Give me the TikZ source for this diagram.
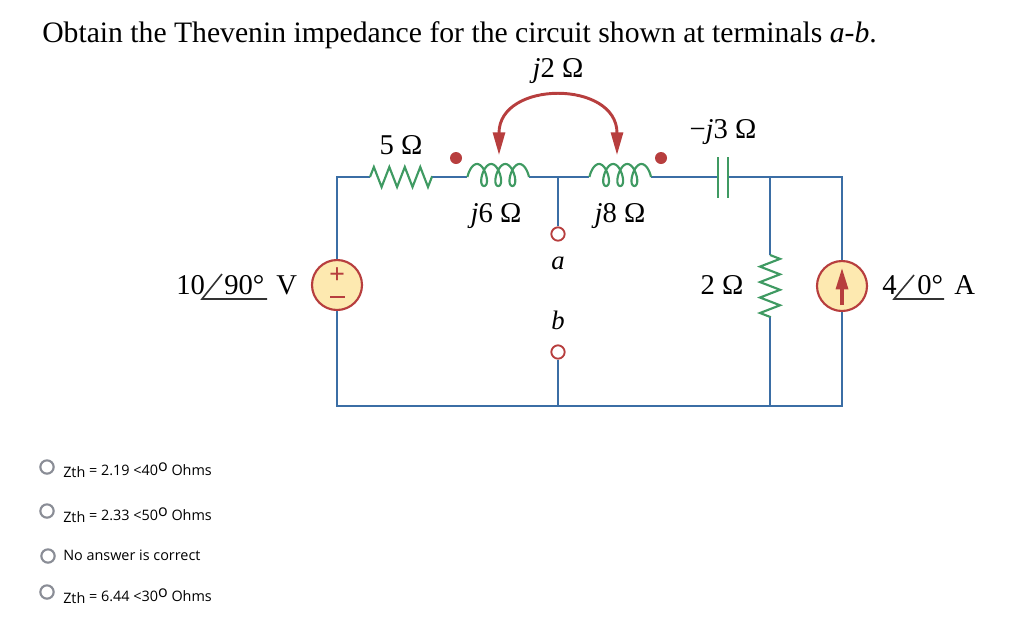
\documentclass[tikz,border=0pt]{standalone}
\usepackage{fontspec}
\setmainfont{Liberation Serif}
\newfontfamily\optfont{Open Sans}
\usetikzlibrary{arrows.meta,decorations.pathmorphing}
\definecolor{wireblue}{HTML}{3B6EA5}
\definecolor{partgreen}{HTML}{3F9A62}
\definecolor{dotred}{HTML}{B73E3E}
\definecolor{srcyellow}{HTML}{FDE9B0}
\definecolor{radiogray}{HTML}{8A8D96}
\tikzset{
	wire/.style={draw=wireblue, line width=2.1pt},
	thinwire/.style={draw=wireblue, line width=1.7pt},
	part/.style={draw=partgreen, line width=1.6pt},
	res/.style={part, decorate, decoration={zigzag, segment length=11.6pt, amplitude=7.5pt}},
	src/.style={circle, draw=dotred, fill=srcyellow, line width=1.6pt, minimum size=37.5pt, inner sep=0pt},
	term/.style={circle, draw=dotred, fill=white, line width=1.4pt, minimum size=10pt, inner sep=0pt},
	dotmark/.style={circle, fill=dotred, minimum size=9pt, inner sep=0pt},
	lab/.style={anchor=base, inner sep=0pt, font=\fontsize{21.5}{25}\selectfont},
	termlab/.style={anchor=base, inner sep=0pt, font=\fontsize{20}{24}\selectfont},
	optlab/.style={anchor=base west, inner sep=0pt, font=\optfont\fontsize{10.8}{13}\selectfont},
	radio/.style={circle, draw=radiogray, fill=white, line width=1.6pt, minimum size=10pt, inner sep=0pt}
}
\newcommand{\zth}{\raisebox{-1.5pt}{Zth}}
\newcommand{\supo}{\raisebox{3pt}{\fontsize{12}{12}\selectfont o}}
\def\coilpart(#1){\draw[part, shift={(#1)}] plot[domain=-90:1170, samples=160] ({10+0.0393*\x+6*sin(\x)}, {-11*cos(\x)-2*cos(\x)*cos(\x)});}
\begin{document}
\begin{tikzpicture}[x=0.75pt, y=-0.75pt]
	\useasboundingbox (0,0) rectangle (1024,629);
	
	%%%%% TITLE %%%%%
	\node[anchor=base west, inner sep=0pt, font=\fontsize{22.25}{26}\selectfont] (title) at (42,42) {Obtain the Thevenin impedance for the circuit shown at terminals \textit{a-b}.};
	
	%%%%% CORNERS AND JUNCTIONS %%%%%
	\coordinate (tl) at (337,177);
	\coordinate (tr) at (842,177);
	\coordinate (bl) at (337,406);
	\coordinate (br) at (842,406);
	\coordinate (tm) at (558,177);
	\coordinate (bm) at (558,406);
	\coordinate (tn) at (770,177);
	\coordinate (bn) at (770,406);
	
	\coordinate (r1a) at (370,177);
	\coordinate (r1b) at (432,177);
	\coordinate (l1a) at (467,177);
	\coordinate (l1b) at (529,177);
	\coordinate (l2a) at (589,177);
	\coordinate (l2b) at (651,177);
	\coordinate (c1a) at (718,177);
	\coordinate (c1b) at (728,177);
	\coordinate (r2a) at (770,255);
	\coordinate (r2b) at (770,317);
	
	\node[src] (vs) at (337,285) {};
	\node[src] (is) at (842,286) {};
	\node[term] (ta) at (558,234) {};
	\node[term] (tb) at (558,352) {};
	
	%%%%% WIRES %%%%%
	\draw[wire] (vs) -- (tl) -- (r1a);
	\draw[wire] (r1b) -- (l1a);
	\draw[wire] (l1b) -- (l2a);
	\draw[wire] (l2b) -- (c1a);
	\draw[wire] (c1b) -- (tr) -- (is);
	\draw[wire] (vs) -- (bl) -- (br) -- (is);
	\draw[thinwire] (tm) -- (ta);
	\draw[thinwire] (tb) -- (bm);
	\draw[thinwire] (tn) -- (r2a);
	\draw[thinwire] (r2b) -- (bn);
	
	%%%%% PARTS %%%%%
	\draw[res] (r1a) -- (r1b);
	\coilpart(l1a)
	\coilpart(l2a)
	\draw[res] (r2a) -- (r2b);
	\draw[part] (718,157) -- (c1a) -- (718,198);
	\draw[part] (728,157) -- (c1b) -- (728,198);
	
	%%%%% COUPLING %%%%%
	\node[dotmark] (d1) at (456,158) {};
	\node[dotmark] (d2) at (661,158) {};
	\coordinate (m1) at (499,155);
	\coordinate (m2) at (617,155);
	\draw[dotred, line width=2.2pt, {Triangle[length=17pt, width=9pt]}-{Triangle[length=17pt, width=9pt]}] (m1) .. controls +(0,-75) and +(0,-75) .. (m2);
	
	%%%%% SOURCE MARKS %%%%%
	\node[inner sep=0pt, text=dotred, font=\bfseries\fontsize{21}{21}\selectfont] (vplus) at (337,276) {+};
	\draw[dotred, line width=2pt] (330,297) -- (345,297);
	\coordinate (ia) at (842,305);
	\coordinate (ib) at (842,268);
	\draw[dotred, line width=2.4pt, -{Triangle[length=16pt, width=9pt]}] (ia) -- (ib);
	
	%%%%% LABELS %%%%%
	\node[lab] (lbm) at (558,77) {\textit{j}2 Ω};
	\node[lab] (lbr1) at (401,154) {5 Ω};
	\node[lab] (lbl1) at (496,222) {\textit{j}6 Ω};
	\node[lab] (lbl2) at (620,222) {\textit{j}8 Ω};
	\node[lab] (lbc) at (723,138) {\textminus\textit{j}3 Ω};
	\node[lab] (lbr2) at (722,294) {2 Ω};
	\node[termlab] (lba) at (558,269) {\textit{a}};
	\node[termlab] (lbb) at (558,329) {\textit{b}};
	
	\node[lab, anchor=base west] (vs10) at (176,294) {10};
	\node[lab, anchor=base west] (vs90) at (224,294) {90\textdegree};
	\node[lab, anchor=base west] (vsv) at (276,294) {V};
	\draw[black!80, line width=1.2pt] (222,274) -- (202,299) -- (267,299);
	
	\node[lab, anchor=base west] (is4) at (882,294) {4};
	\node[lab, anchor=base west] (is0) at (917,294) {0\textdegree};
	\node[lab, anchor=base west] (isa) at (954,294) {A};
	\draw[black!80, line width=1.2pt] (914,275) -- (894,299) -- (944,299);
	
	%%%%% ANSWERS %%%%%
	\node[radio] (o1) at (47,467) {};
	\node[radio] (o2) at (47,511) {};
	\node[radio] (o3) at (48,556) {};
	\node[radio] (o4) at (47,592) {};
	\node[optlab] (t1) at (63,475) {\zth{} = 2.19 <40\supo{} Ohms};
	\node[optlab] (t2) at (63,520) {\zth{} = 2.33 <50\supo{} Ohms};
	\node[optlab] (t3) at (63,560) {No answer is correct};
	\node[optlab] (t4) at (63,601) {\zth{} = 6.44 <30\supo{} Ohms};
\end{tikzpicture}
\end{document}
